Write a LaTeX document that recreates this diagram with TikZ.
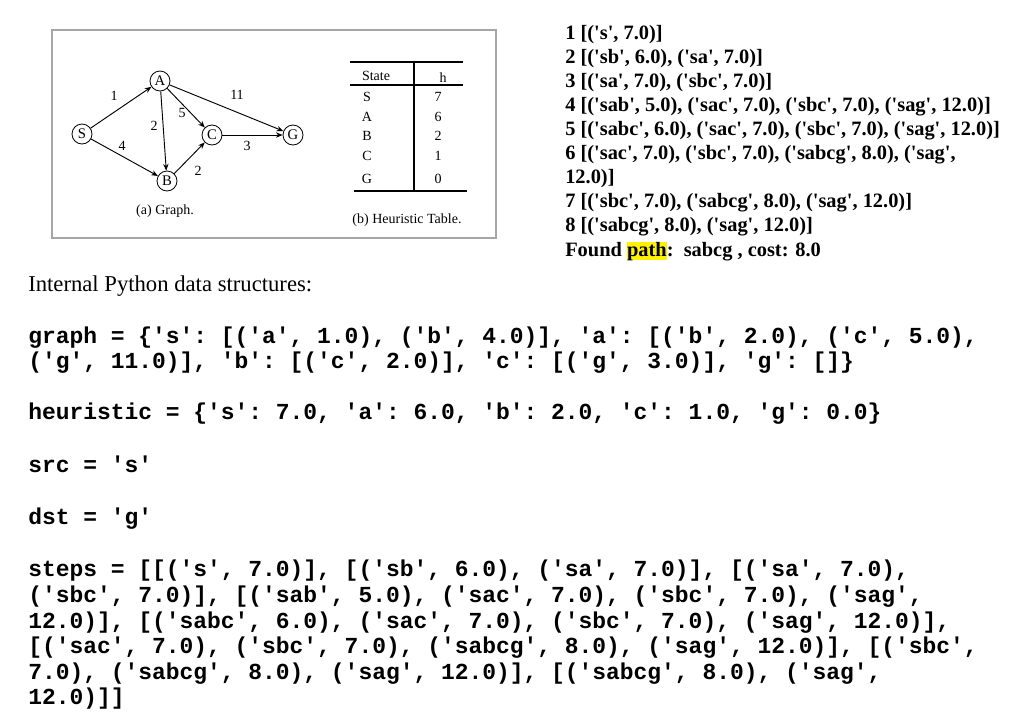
\documentclass[tikz,border=0pt]{standalone}
\usepackage{fontspec}
\setmainfont{Liberation Serif}
\setmonofont{Liberation Mono}
\usetikzlibrary{arrows.meta}
\newcommand\sq{\textquotesingle}
\begin{document}
\begin{tikzpicture}[x=0.75pt,y=-0.75pt,
  vtx/.style={circle,draw,line width=0.6pt,inner sep=0pt,minimum size=15pt,font=\fontsize{11}{11}\selectfont},
  edge/.style={-{Stealth[length=5pt,width=4pt]},line width=0.7pt},
  wlab/.style={font=\fontsize{10.5}{11}\selectfont,inner sep=0pt},
  res/.style={anchor=base west,inner sep=0pt,font=\bfseries\fontsize{15.3}{16}\selectfont},
  code/.style={anchor=base west,inner sep=0pt,font=\ttfamily\bfseries\fontsize{17.2}{18}\selectfont},
  rule/.style={line width=1.2pt}]
\useasboundingbox (0,0) rectangle (1024,715);
\fill[white] (0,0) rectangle (1024,715);
\draw[gray!70,line width=0.8pt] (52,30) rectangle (496,238);
% graph
\node[vtx] (S) at (82,134) {S};
\node[vtx] (A) at (160,81) {A};
\node[vtx] (B) at (167,181) {B};
\node[vtx] (C) at (212,135) {C};
\node[vtx] (G) at (293,135) {G};
\draw[edge] (S) -- (A);
\draw[edge] (S) -- (B);
\draw[edge] (A) -- (B);
\draw[edge] (A) -- (C);
\draw[edge] (A) -- (G);
\draw[edge] (B) -- (C);
\draw[edge] (C) -- (G);
\node[wlab] (w1) at (114,96) {1};
\node[wlab] (w2) at (122,146) {4};
\node[wlab] (w3) at (154,126) {2};
\node[wlab] (w4) at (182,113) {5};
\node[wlab] (w5) at (237,95) {11};
\node[wlab] (w6) at (198,171) {2};
\node[wlab] (w7) at (247,146) {3};
\node[wlab] (capa) at (165,211) {(a) Graph.};
\node[wlab] (capb) at (407,220) {(b) Heuristic Table.};
% table
\draw[rule] (350,62) -- (463,62);
\draw[rule] (350,85) -- (463,85);
\draw[rule] (354,191) -- (467,191);
\draw[rule] (414,62) -- (414,191);
\node[wlab] (th1) at (376,76) {State};
\node[wlab] (th2) at (443,78) {h};
\foreach \s/\v/\y in {S/7/97,A/6/117,B/2/136,C/1/156,G/0/179}{
  \node[wlab] (ts\s) at (367,\y) {\s};
  \node[wlab] (tv\s) at (438,\y) {\v};
}
% results
\node[res] (r1) at (565,39) {1 [(\sq s\sq, 7.0)]};
\node[res] (r2) at (565,63) {2 [(\sq sb\sq, 6.0), (\sq sa\sq, 7.0)]};
\node[res] (r3) at (565,87) {3 [(\sq sa\sq, 7.0), (\sq sbc\sq, 7.0)]};
\node[res] (r4) at (565,111) {4 [(\sq sab\sq, 5.0), (\sq sac\sq, 7.0), (\sq sbc\sq, 7.0), (\sq sag\sq, 12.0)]};
\node[res] (r5) at (565,135) {5 [(\sq sabc\sq, 6.0), (\sq sac\sq, 7.0), (\sq sbc\sq, 7.0), (\sq sag\sq, 12.0)]};
\node[res] (r6) at (565,159) {6 [(\sq sac\sq, 7.0), (\sq sbc\sq, 7.0), (\sq sabcg\sq, 8.0), (\sq sag\sq,};
\node[res] (r6b) at (565,183) {12.0)]};
\node[res] (r7) at (565,207) {7 [(\sq sbc\sq, 7.0), (\sq sabcg\sq, 8.0), (\sq sag\sq, 12.0)]};
\node[res] (r8) at (565,231) {8 [(\sq sabcg\sq, 8.0), (\sq sag\sq, 12.0)]};
\node[res] (r9) at (565,256) {Found {\setlength\fboxsep{0pt}\colorbox{yellow}{path}}:\ \ sabcg , cost: 8.0};
% code
\node[anchor=base west,inner sep=0pt,font=\fontsize{17}{18}\selectfont] (intro) at (28,291) {Internal Python data structures:};
\node[code] (c1) at (28,343) {graph = \{\sq s\sq: [(\sq a\sq, 1.0), (\sq b\sq, 4.0)], \sq a\sq: [(\sq b\sq, 2.0), (\sq c\sq, 5.0),};
\node[code] (c2) at (28,368) {(\sq g\sq, 11.0)], \sq b\sq: [(\sq c\sq, 2.0)], \sq c\sq: [(\sq g\sq, 3.0)], \sq g\sq: []\}};
\node[code] (c3) at (28,419) {heuristic = \{\sq s\sq: 7.0, \sq a\sq: 6.0, \sq b\sq: 2.0, \sq c\sq: 1.0, \sq g\sq: 0.0\}};
\node[code] (c4) at (28,472) {src = \sq s\sq};
\node[code] (c5) at (28,524) {dst = \sq g\sq};
\node[code] (c6) at (28,576) {steps = [[(\sq s\sq, 7.0)], [(\sq sb\sq, 6.0), (\sq sa\sq, 7.0)], [(\sq sa\sq, 7.0),};
\node[code] (c7) at (28,602) {(\sq sbc\sq, 7.0)], [(\sq sab\sq, 5.0), (\sq sac\sq, 7.0), (\sq sbc\sq, 7.0), (\sq sag\sq,};
\node[code] (c8) at (28,628) {12.0)], [(\sq sabc\sq, 6.0), (\sq sac\sq, 7.0), (\sq sbc\sq, 7.0), (\sq sag\sq, 12.0)],};
\node[code] (c9) at (28,653) {[(\sq sac\sq, 7.0), (\sq sbc\sq, 7.0), (\sq sabcg\sq, 8.0), (\sq sag\sq, 12.0)], [(\sq sbc\sq,};
\node[code] (c10) at (28,679) {7.0), (\sq sabcg\sq, 8.0), (\sq sag\sq, 12.0)], [(\sq sabcg\sq, 8.0), (\sq sag\sq,};
\node[code] (c11) at (28,704) {12.0)]]};
\end{tikzpicture}
\end{document}
